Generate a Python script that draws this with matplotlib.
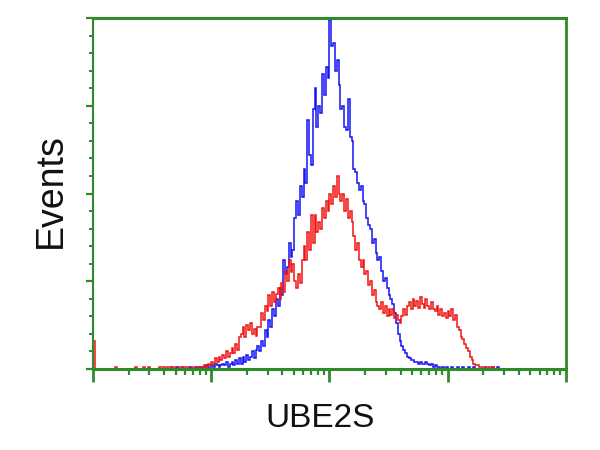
import numpy as np
import matplotlib
matplotlib.use("Agg")
from matplotlib import pyplot as plt
from matplotlib.ticker import MultipleLocator, LogLocator, NullFormatter

# flow cytometry histogram, 256 channels over 4 decades (channels 0..229 listed)
n_channels = 256
decades = 4

blue_counts = [
    0, 0, 0, 0, 0, 0, 0, 0, 0, 0,
    0, 0, 0, 0, 0, 0, 0, 0, 0, 0,
    0, 0, 0, 0, 0, 0, 0, 0, 0, 0,
    0, 0, 0, 0, 0, 0, 0, 0, 0, 0,
    0, 0, 0, 0, 0, 1, 0, 0, 1, 0,
    0, 0, 1, 0, 0, 1, 0, 1, 1, 0,
    1, 2, 1, 0, 2, 1, 3, 2, 1, 2,
    3, 2, 4, 1, 3, 4, 2, 5, 3, 6,
    3, 7, 4, 8, 5, 7, 10, 6, 11, 13,
    10, 16, 13, 22, 18, 28, 24, 34, 30, 40,
    36, 46, 42, 62, 54, 58, 72, 64, 68, 86,
    96, 88, 104, 98, 114, 106, 142, 122, 116, 148,
    160, 138, 150, 146, 168, 156, 172, 166, 199, 184,
    186, 170, 176, 162, 148, 150, 138, 136, 154, 132,
    130, 114, 112, 106, 102, 104, 96, 94, 86, 82,
    80, 72, 74, 66, 62, 64, 56, 50, 52, 46,
    42, 40, 37, 32, 26, 20, 16, 13, 11, 9,
    7, 6, 5, 5, 4, 4, 3, 4, 3, 3,
    4, 3, 2, 3, 1, 2, 1, 1, 0, 1,
    0, 1, 0, 0, 1, 0, 0, 1, 0, 0,
    1, 0, 0, 1, 0, 0, 1, 0, 0, 0,
    0, 0, 1, 0, 0, 0, 1, 0, 0, 1,
    0, 0, 0, 0, 0, 0, 0, 0, 0, 0,
]

red_counts = [
    16, 0, 0, 0, 0, 0, 0, 0, 0, 0,
    0, 0, 1, 0, 0, 0, 0, 0, 0, 0,
    0, 0, 0, 1, 0, 0, 0, 1, 0, 0,
    1, 0, 0, 0, 0, 0, 1, 1, 1, 0,
    1, 1, 0, 1, 0, 0, 1, 0, 1, 1,
    1, 0, 0, 1, 0, 0, 1, 0, 1, 0,
    2, 1, 3, 2, 4, 3, 6, 4, 7, 5,
    8, 6, 10, 7, 9, 12, 9, 14, 11, 18,
    20, 24, 18, 25, 22, 26, 20, 23, 19, 24,
    24, 32, 28, 36, 33, 42, 36, 44, 38, 43,
    46, 40, 49, 44, 56, 50, 62, 55, 60, 50,
    46, 54, 49, 62, 70, 62, 78, 68, 88, 72,
    88, 78, 84, 80, 92, 86, 96, 90, 100, 94,
    104, 98, 110, 100, 96, 100, 90, 97, 86, 90,
    84, 76, 68, 72, 62, 58, 62, 54, 56, 48,
    50, 42, 45, 38, 36, 34, 38, 32, 36, 30,
    34, 31, 34, 29, 31, 28, 26, 30, 34, 31,
    36, 38, 34, 40, 36, 39, 35, 41, 37, 35,
    40, 36, 34, 38, 34, 33, 36, 31, 34, 30,
    32, 29, 33, 30, 34, 28, 31, 24, 22, 18,
    17, 14, 12, 10, 7, 5, 3, 2, 2, 1,
    1, 0, 1, 0, 1, 0, 1, 0, 0, 0,
    0, 0, 0, 0, 0, 0, 0, 0, 0, 0,
]

x_label = "UBE2S"
y_label = "Events"
y_max = 200

green = "#2f8a2a"

fig = plt.figure(figsize=(6, 4.5), dpi=100)
ax = fig.add_axes([0.155, 0.18, 0.788, 0.78])

def channel_edges(n):
    return 10 ** (np.arange(n + 1) * decades / n_channels)

ax.stairs(blue_counts, channel_edges(len(blue_counts)), color="#1414f5", linewidth=1.1)
ax.stairs(red_counts, channel_edges(len(red_counts)), color="#f01414", linewidth=1.1)

ax.set_xscale("log")
ax.set_xlim(1, 10 ** decades)
ax.set_ylim(0, y_max)

ax.xaxis.set_major_locator(LogLocator(base=10, numticks=10))
ax.xaxis.set_minor_locator(LogLocator(base=10, subs=np.arange(2, 10), numticks=10))
ax.xaxis.set_major_formatter(NullFormatter())
ax.xaxis.set_minor_formatter(NullFormatter())
ax.yaxis.set_major_locator(MultipleLocator(50))
ax.yaxis.set_minor_locator(MultipleLocator(10))
ax.yaxis.set_major_formatter(NullFormatter())

for side in ["top", "right", "bottom", "left"]:
    ax.spines[side].set_color(green)
ax.spines["top"].set_linewidth(2.2)
ax.spines["right"].set_linewidth(2.0)
ax.spines["bottom"].set_linewidth(2.2)
ax.spines["left"].set_linewidth(1.5)

ax.tick_params(axis="x", which="major", direction="out", length=9, width=2, color=green)
ax.tick_params(axis="x", which="minor", direction="out", length=4.5, width=1.6, color=green)
ax.tick_params(axis="y", which="major", direction="out", length=5, width=1.6, color=green)
ax.tick_params(axis="y", which="minor", direction="out", length=3, width=1.4, color=green)

fig.text(0.533, 0.07, x_label, ha="center", va="center", fontsize=24,
         family=["Liberation Sans Narrow", "Liberation Sans", "DejaVu Sans"], color="#111111")
fig.text(0.085, 0.577, y_label, ha="center", va="center", rotation=90, fontsize=27,
         family=["Liberation Sans", "DejaVu Sans"], color="#111111")

fig.savefig("out.png", dpi=100)
